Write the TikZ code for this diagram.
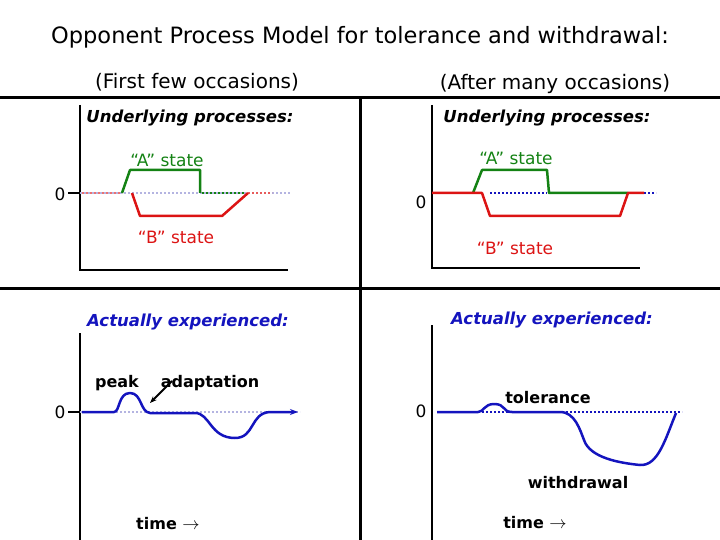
\documentclass[tikz,border=0pt]{standalone}
\usepackage{fontspec}
\setmainfont{DejaVu Sans}
\usetikzlibrary{arrows.meta}
\definecolor{gA}{RGB}{20,130,20}
\definecolor{rB}{RGB}{220,20,20}
\definecolor{bX}{RGB}{20,20,190}
\definecolor{lav}{RGB}{180,180,225}
\begin{document}
\begin{tikzpicture}[x=1pt,y=-1pt,
  frame/.style={line width=3pt,black},
  axis/.style={line width=2.5pt,black},
  zero/.style={line width=2pt,dotted,lav},
  curveA/.style={line width=2.5pt,gA,line join=round},
  curveB/.style={line width=2.5pt,rB,line join=round},
  curveX/.style={line width=2.5pt,bX,line join=round},
  lbl/.style={font=\fontsize{17}{20}\selectfont},
  bl/.style={font=\fontsize{16}{19}\selectfont\bfseries},
  head/.style={font=\fontsize{16.5}{19}\selectfont\itshape\bfseries}]
\useasboundingbox (0,0) rectangle (720,540);
\node[font=\fontsize{22.5}{26}\selectfont] (title) at (360,37) {Opponent Process Model for tolerance and withdrawal:};
\node[font=\fontsize{20}{24}\selectfont] (s1) at (197,82) {(First few occasions)};
\node[font=\fontsize{20}{24}\selectfont] (s2) at (555,84) {(After many occasions)};
\draw[frame] (0,98) -- (720,98);
\draw[frame] (0,288) -- (720,288);
\draw[frame] (360,98) -- (360,540);
% top-left
\node[head] (u1) at (190,118) {Underlying processes:};
\draw[axis] (80,105) -- (80,270) -- (288,270);
\node[lbl] (z1) at (60,194) {0};
\draw[axis] (68,193) -- (80,193);
\draw[zero] (80,193) -- (290,193);
\draw[line width=2pt,dotted,rB!60] (82,193) -- (122,193);
\draw[line width=2pt,dotted,rB!70] (248,193) -- (272,193);
\draw[line width=2pt,dotted,gA] (202,193) -- (245,193);
\draw[curveA] (122,193) -- (130,170) -- (200,170) -- (200,193);
\draw[curveB] (132,193) -- (140,216) -- (222,216) -- (248,193);
\node[lbl,text=gA] (A1) at (167,160) {“A” state};
\node[lbl,text=rB] (B1) at (176,237) {“B” state};
% top-right
\node[head] (u2) at (547,118) {Underlying processes:};
\draw[axis] (432,105) -- (432,268) -- (640,268);
\node[lbl] (z2) at (421,202) {0};
\draw[line width=2pt,dotted,bX] (490,193) -- (547,193);
\draw[line width=2pt,dotted,bX] (640,193) -- (656,193);
\draw[curveA] (473,193) -- (482,170) -- (547,170) -- (549,193) -- (628,193);
\draw[curveB] (432,193) -- (482,193) -- (490,216) -- (620,216) -- (628,193) -- (644,193);
\node[lbl,text=gA] (A2) at (516,158) {“A” state};
\node[lbl,text=rB] (B2) at (515,248) {“B” state};
% bottom-left
\node[head,text=bX] (e1) at (188,322) {Actually experienced:};
\draw[axis] (80,333) -- (80,540);
\node[lbl] (z3) at (60,412) {0};
\draw[axis] (68,412) -- (80,412);
\draw[zero] (80,412) -- (300,412);
\draw[curveX,-{Stealth[length=8pt]}] (82,412) -- (114,412) .. controls (120,412) and (118,393) .. (130,393)
  .. controls (142,393) and (140,412) .. (150,413) -- (195,413)
  .. controls (210,413) and (210,438) .. (235,438) .. controls (255,438) and (250,413) .. (270,412) -- (298,412);
\node[bl] (pk) at (117,383) {peak};
\node[bl] (ad) at (210,383) {adaptation};
\draw[line width=2pt,-{Stealth[length=7pt]}] (172,381) -- (150,403);
\node[bl] (t1) at (168,524) {time $\rightarrow$};
% bottom-right
\node[head,text=bX] (e2) at (552,320) {Actually experienced:};
\draw[axis] (432,325) -- (432,540);
\node[lbl] (z4) at (421,411) {0};
\draw[line width=2pt,dotted,bX] (478,412) -- (682,412);
\draw[curveX] (437,412) -- (478,412) .. controls (484,412) and (484,404) .. (494,404)
  .. controls (506,404) and (502,412) .. (512,412) -- (560,412)
  .. controls (575,412) and (580,430) .. (584,440)
  .. controls (590,458) and (620,463) .. (640,465)
  .. controls (658,466) and (665,440) .. (676,413);
\node[bl] (tol) at (548,398) {tolerance};
\node[bl] (wd) at (578,483) {withdrawal};
\node[bl] (t2) at (535,523) {time $\rightarrow$};
\end{tikzpicture}
\end{document}
